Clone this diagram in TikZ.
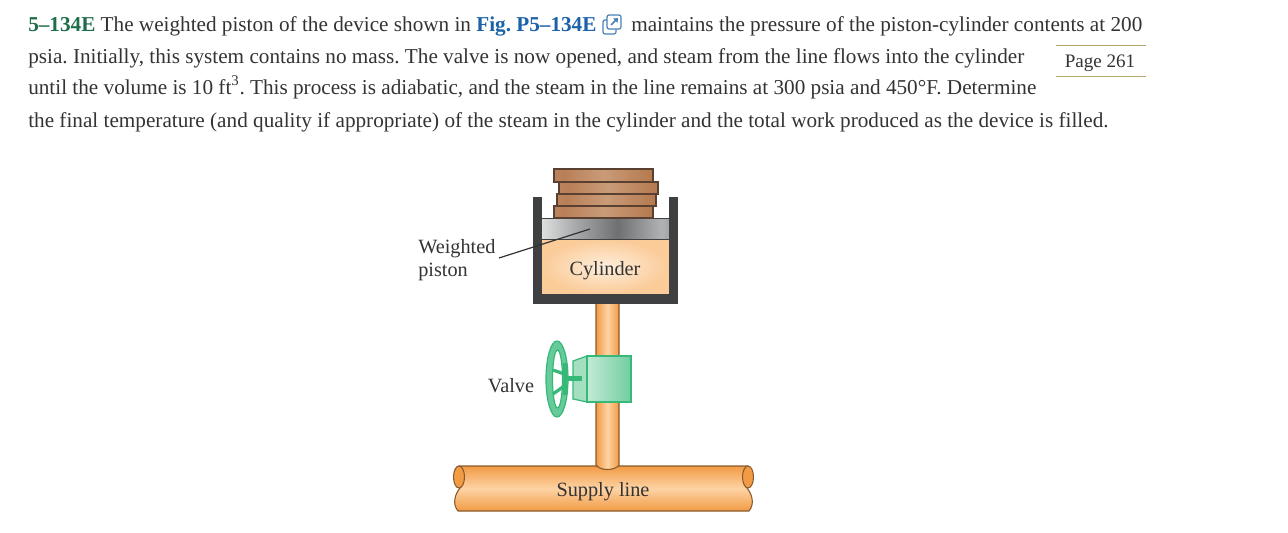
\documentclass[tikz,border=0pt]{standalone}
\usepackage{fontspec}
\setmainfont{Liberation Serif}
\definecolor{inkgrey}{HTML}{333333}
\definecolor{probgreen}{HTML}{1F6E4A}
\definecolor{figblue}{HTML}{1B62A8}
\definecolor{ruleolive}{HTML}{B3A86A}
\definecolor{wallgrey}{HTML}{3F4042}
\definecolor{pipeedge}{HTML}{8A5A2C}
\definecolor{pipedark}{HTML}{F29B45}
\definecolor{pipelight}{HTML}{FDD3A4}
\definecolor{gaslight}{HTML}{FDEEDC}
\definecolor{gasdark}{HTML}{FBCB98}
\definecolor{valveedge}{HTML}{35B878}
\definecolor{weightedge}{HTML}{5A4030}
\definecolor{copperA}{HTML}{C79670}
\definecolor{copperB}{HTML}{B98058}
\definecolor{copperC}{HTML}{C99B78}
\definecolor{copperD}{HTML}{B4794E}
\definecolor{copperE}{HTML}{D0AC8C}
\definecolor{steelA}{HTML}{8C8E90}
\definecolor{steelB}{HTML}{EDEDED}
\definecolor{steelC}{HTML}{A8AAAC}
\definecolor{steelD}{HTML}{6E7072}
\definecolor{steelE}{HTML}{B0B2B4}
\pgfdeclarehorizontalshading{coppershade}{100bp}{
  color(0bp)=(copperA); color(30bp)=(copperB); color(50bp)=(copperC);
  color(75bp)=(copperD); color(100bp)=(copperE)}
\pgfdeclarehorizontalshading{pistonshade}{100bp}{
  color(0bp)=(steelA); color(22bp)=(steelB); color(38bp)=(steelC);
  color(55bp)=(steelD); color(72bp)=(steelE); color(88bp)=(steelD);
  color(100bp)=(steelC)}
\frenchspacing
\tikzset{
  bodytext/.style={anchor=base west,inner sep=0pt,text=inkgrey,font=\fontsize{15.9}{18}\selectfont},
  labeltext/.style={inner sep=0pt,text=inkgrey,font=\fontsize{15.2}{18}\selectfont},
  weightplate/.style={draw=weightedge,line width=0.9pt,shading=coppershade},
  pipebody/.style={draw=pipeedge,line width=0.8pt},
  valvepart/.style={draw=valveedge,line width=0.9pt},
  pagerule/.style={draw=ruleolive,line width=0.6pt}
}
\begin{document}
\begin{tikzpicture}[x=0.75pt,y=-0.75pt]
  \useasboundingbox (0,0) rectangle (1288,532);
  % problem text
  \node[bodytext] (line1) at (28,31) {\textcolor{probgreen}{\textbf{5–134E}} The weighted piston of the device shown in \textcolor{figblue}{\textbf{Fig. P5–134E}}};
  \node[bodytext] (line1b) at (631,31) {maintains the pressure of the piston-cylinder contents at 200};
  \node[bodytext] (line2) at (28,63) {psia. Initially, this system contains no mass. The valve is now opened, and steam from the line flows into the cylinder};
  \node[bodytext] (line3) at (28,94) {until the volume is 10 ft\textsuperscript{3}. This process is adiabatic, and the steam in the line remains at 300 psia and 450°F. Determine};
  \node[bodytext] (line4) at (28,127) {the final temperature (and quality if appropriate) of the steam in the cylinder and the total work produced as the device is filled.};
  % link icon
  \draw[figblue!80,line width=0.9pt,rounded corners=1.5pt,fill=white] (603,20) rectangle (616,34);
  \draw[figblue!80,line width=0.9pt,rounded corners=1.5pt,fill=white] (607,15) rectangle (621,29);
  \draw[figblue!80,line width=1.2pt] (611,25) -- (617,19);
  \fill[figblue!80] (618,18) -- (613,18.5) -- (617.5,23) -- cycle;
  % page marker
  \coordinate (ruleAa) at (1056,45);
  \coordinate (ruleAb) at (1146,45);
  \coordinate (ruleBa) at (1056,76);
  \coordinate (ruleBb) at (1146,76);
  \draw[pagerule] (ruleAa) -- (ruleAb);
  \draw[pagerule] (ruleBa) -- (ruleBb);
  \node[labeltext,font=\fontsize{14.3}{16}\selectfont] (pagemark) at (1100,63.5) {Page 261};
  % supply line and riser
  \draw[pipebody,top color=pipedark,bottom color=pipedark,middle color=pipelight]
    (459,466) -- (748,466) .. controls (751,472) and (751,482) .. (747,488)
    .. controls (752,494) and (755,504) .. (749,511) -- (458,511)
    .. controls (452,504) and (455,494) .. (460,488)
    .. controls (454,482) and (453,472) .. (459,466) -- cycle;
  \draw[pipebody,fill=pipedark] (459,477) ellipse (5.5 and 11);
  \draw[pipebody,fill=pipedark] (748,477) ellipse (5.5 and 11);
  \draw[pipebody,left color=pipedark,right color=pipedark,middle color=pipelight]
    (596,300) -- (596,465) .. controls (600,471) and (615,471) .. (619,465) -- (619,300) -- cycle;
  \node[labeltext] (supply) at (603,491.5) {Supply line};
  % cylinder
  \shade[inner color=gaslight,outer color=gasdark] (541,239) rectangle (669,294);
  \draw[wallgrey,fill=wallgrey,line width=0.4pt] (533,197) -- (541,197) -- (541,294) -- (669,294)
    -- (669,197) -- (677,197) -- (677,303) -- (533,303) -- cycle;
  \draw[wallgrey,line width=0.7pt,shading=pistonshade] (541,218) rectangle (669,239);
  \node[labeltext] (cylinder) at (605,270.5) {Cylinder};
  % weights
  \draw[weightplate] (554,169) rectangle (653,182);
  \draw[weightplate] (559,182) rectangle (658,194);
  \draw[weightplate] (557,194) rectangle (656,206);
  \draw[weightplate] (554,206) rectangle (653,218);
  % piston label
  \node[labeltext,anchor=base west] (weighted) at (418,253) {Weighted};
  \node[labeltext,anchor=base west] (piston) at (418,276) {piston};
  \coordinate (leadstart) at (499,258);
  \coordinate (leadend) at (590,229);
  \draw[inkgrey,line width=0.9pt] (leadstart) -- (leadend);
  % valve
  \draw[valvepart,fill=valveedge!45] (573,361) -- (587,356) -- (587,402) -- (573,399) -- cycle;
  \draw[valvepart,left color=valveedge!30,right color=valveedge!70] (587,356) rectangle (631,402);
  \draw[valvepart,fill=valveedge!75] (557,379) ellipse (11 and 38);
  \draw[valvepart,fill=white] (557.5,379) ellipse (5 and 29);
  \draw[valveedge,line width=2.4pt] (553,370) -- (567,375);
  \draw[valveedge,line width=2.4pt] (553,394) -- (567,384);
  \draw[valveedge,line width=2.8pt] (565,363) -- (565,395);
  \draw[valveedge,line width=4pt] (566,378.5) -- (582,378.5);
  \node[labeltext] (valve) at (511,386) {Valve};
\end{tikzpicture}
\end{document}
